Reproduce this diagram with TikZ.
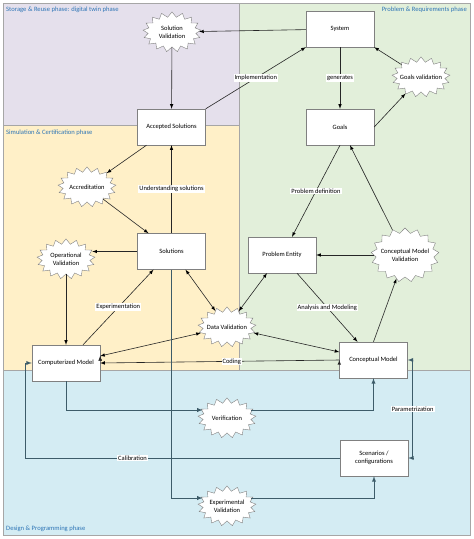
\documentclass[tikz,border=0pt]{standalone}
\usepackage{fontspec}
\setmainfont{Carlito}
\usepackage{tikz}
\usetikzlibrary{arrows,shapes,calc}
\definecolor{reusebg}{HTML}{E5E0EC}
\definecolor{simbg}{HTML}{FFF0C8}
\definecolor{reqbg}{HTML}{E2EFDA}
\definecolor{designbg}{HTML}{D4ECF3}
\definecolor{framegray}{HTML}{A6A6A6}
\definecolor{boxgray}{HTML}{808080}
\definecolor{phaseblue}{HTML}{2E75B6}
\definecolor{linedark}{HTML}{262626}
\definecolor{lineteal}{HTML}{3D5C69}

\begin{document}
\begin{tikzpicture}[x=1pt, y=-1pt,
box/.style={draw=boxgray, fill=white, minimum width=68pt, minimum height=36pt, inner sep=2pt, align=center, font=\fontsize{6.5}{7.8}\selectfont},
burst/.style={starburst, starburst points=17, starburst point height=5pt, random starburst=0, draw=boxgray, fill=white, minimum width=58pt, minimum height=40pt, inner sep=0pt},
bursttext/.style={align=center, inner sep=0pt, font=\fontsize{6.5}{7.8}\selectfont},
lbl/.style={fill=white, inner sep=1pt, font=\fontsize{6.5}{7.5}\selectfont},
phase/.style={inner sep=0pt, text=phaseblue, font=\fontsize{6.6}{7.5}\selectfont},
conn/.style={draw=linedark, line width=0.6pt},
pipe/.style={draw=lineteal, line width=0.9pt}]
\useasboundingbox (0,0) rectangle (474,539);

% phases
\fill[reusebg] (3,3) rectangle (239,125);
\fill[simbg] (3,125) rectangle (239,370);
\fill[reqbg] (239,3) rectangle (470,370);
\fill[designbg] (3,370) rectangle (470,535);
\draw[framegray, line width=0.8pt] (3,3) rectangle (470,535) (3,125) -- (239,125) (239,3) -- (239,370) (3,370) -- (470,370);
\node[phase, anchor=west] (reuse) at (6,10) {Storage \& Reuse phase: digital twin phase};
\node[phase, anchor=east] (probreq) at (467,10) {Problem \& Requirements phase};
\node[phase, anchor=west] (simcert) at (6,133) {Simulation \& Certification phase};
\node[phase, anchor=west] (design) at (6,529) {Design \& Programming phase};

% boxes
\node[box] (system) at (340,29) {System};
\node[box] (accepted) at (171.5,127) {Accepted Solutions};
\node[box] (goals) at (340,127) {Goals};
\node[box] (solutions) at (171.5,251.5) {Solutions};
\node[box] (problem) at (282,255) {Problem Entity};
\node[box] (computer) at (66,363) {Computerized Model};
\node[box] (concept) at (373.5,360) {Conceptual Model};
\node[box] (scen) at (374,458) {Scenarios /\\configurations};

% validation bursts
\node[burst, label={[bursttext]center:Solution\\Validation}] (solval) at (172,32) {};
\node[burst, label={[bursttext]center:Goals validation}] (goalval) at (421,77) {};
\node[burst, label={[bursttext]center:Accreditation}] (accred) at (87,187) {};
\node[burst, label={[bursttext]center:Operational\\Validation}] (opval) at (66,259) {};
\node[burst, minimum width=68pt, minimum height=54pt, label={[bursttext]center:Conceptual Model\\Validation}] (cmval) at (405,255) {};
\node[burst, label={[bursttext]center:Data Validation}] (dataval) at (227,327) {};
\node[burst, label={[bursttext]center:Verification}] (verif) at (227,418) {};
\node[burst, label={[bursttext]center:Experimental\\Validation}] (expval) at (227,506) {};

% connectors
\path[conn,-latex]
(system) edge (solval)
(solval) edge (accepted)
(accepted.north east) edge node[lbl]{Implementation} (system.south west)
(system) edge node[lbl]{generates} (goals)
(goals.east) edge (goalval)
(goalval) edge (system.south east)
(goals.south) edge node[lbl]{Problem definition} ([xshift=10pt]problem.north)
(cmval) edge ([xshift=10pt]goals.south)
(cmval) edge (problem)
([xshift=15pt]problem.south) edge node[lbl]{Analysis and Modeling} ([xshift=-16pt]concept.north)
(concept.north) edge (cmval)
([xshift=-25pt]accepted.south) edge (accred)
(accred) edge ([xshift=-23pt]solutions.north)
(solutions) edge node[lbl]{Understanding solutions} (accepted)
(solutions.west) edge (solutions.west -| opval.east)
(opval) edge (computer)
([xshift=17pt]computer.north) edge node[lbl]{Experimentation} ([xshift=-18pt]solutions.south)
(concept.west) edge node[lbl, pos=0.45]{Coding} (computer.east);
\path[conn,latex-latex]
([xshift=-15pt]problem.south) edge (dataval)
([yshift=8pt]concept.west) edge (dataval)
([xshift=14pt]solutions.south) edge (dataval)
([yshift=7pt]computer.east) edge (dataval);

\draw[pipe,-latex] (computer.south) |- ($(verif.west)+(2,-8)$);
\draw[pipe,-latex] ($(verif.east)+(-2,-8)$) -| (concept.south);
\draw[pipe,-latex] (solutions.south) |- ($(expval.west)+(2,-8)$);
\draw[pipe,-latex] ($(expval.east)+(-2,-8)$) -| (scen.south);
\draw[pipe,-latex] (scen.west) -| node[lbl, pos=0.33]{Calibration} ($(computer.west)+(-6,0)$) -- (computer.west);
\draw[pipe,latex-latex] (concept.east) -- ++(5,0) |- node[lbl, pos=0.25]{Parametrization} (scen.east);
\end{tikzpicture}
\end{document}
